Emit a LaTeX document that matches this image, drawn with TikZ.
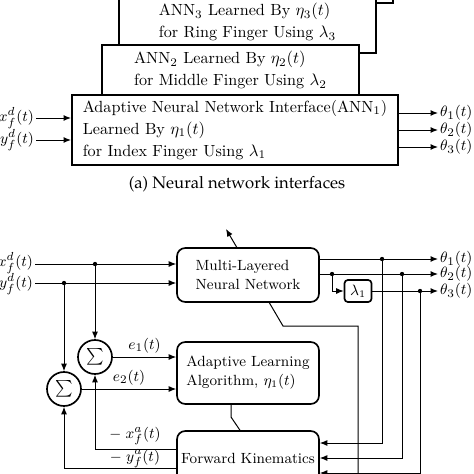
\documentclass[tikz,border=0pt]{standalone}
\usepackage[T1,TU]{fontenc}
\usetikzlibrary{arrows.meta}

\tikzset{
    annbox/.style={draw, line width=1.2pt, fill=white, align=left, inner sep=0pt,
        font=\fontsize{9.7}{13.2}\selectfont},
    blockbox/.style={draw, line width=1pt, fill=white, rounded corners=5pt, align=left,
        inner sep=0pt, font=\fontsize{8.85}{11.4}\selectfont},
    sumnode/.style={draw, line width=1pt, circle, fill=white, minimum size=20.4pt,
        inner sep=0pt, font=\fontsize{8.85}{11.4}\selectfont},
    junction/.style={circle, fill, inner sep=0pt, minimum size=2.6pt},
    sig/.style={-{Latex[length=4.5pt,width=3.6pt]}, line width=0.6pt},
    lbl/.style={inner sep=1pt, font=\fontsize{9.5}{11}\selectfont}
}

\begin{document}
\begin{tikzpicture}[x=0.6pt, y=-0.6pt, line width=0.6pt]
    \clip (0, 0) rectangle (474, 474);

    % (a) stacked interfaces
    \draw [line width=1.2pt, fill=white] (135, -60) rectangle (393, 3);
    \node [annbox, minimum width=154.2pt, minimum height=37.2pt] (ann3) at (247.5, 22)
        {ANN$_3$ Learned By $\eta_3(t)$\\for Ring Finger Using $\lambda_3$};
    \node [annbox, minimum width=154.2pt, minimum height=30pt] (ann2) at (230.5, 70)
        {ANN$_2$ Learned By $\eta_2(t)$\\for Middle Finger Using $\lambda_2$};
    \node [annbox, minimum width=195.6pt, minimum height=42pt] (ann1) at (235, 130)
        {Adaptive Neural Network Interface(ANN$_1$)\\Learned By $\eta_1(t)$\\for Index Finger Using $\lambda_1$};

    \node [lbl, anchor=east] (xa) at (36, 118) {$x_f^d(t)$};
    \node [lbl, anchor=east] (ya) at (36, 140) {$y_f^d(t)$};
    \draw [sig] (xa.east) -- (xa.east -| ann1.west);
    \draw [sig] (ya.east) -- (ya.east -| ann1.west);

    \node [lbl, anchor=west] (tha1) at (438, 113) {$\theta_1(t)$};
    \node [lbl, anchor=west] (tha2) at (438, 130) {$\theta_2(t)$};
    \node [lbl, anchor=west] (tha3) at (438, 147) {$\theta_3(t)$};
    \draw [sig] (ann1.east |- tha1) -- (tha1.west);
    \draw [sig] (ann1.east |- tha2) -- (tha2.west);
    \draw [sig] (ann1.east |- tha3) -- (tha3.west);

    \node [font=\fontencoding{T1}\fontfamily{ppl}\fontsize{10}{12}\selectfont] (capa) at (237, 184)
        {(a) Neural network interfaces};

    % (b) learning loop
    \coordinate (tip) at (226, 229);
    \draw [sig] (358, 490) -- (358, 326) -- (283, 326) -- (tip);
    \draw (231, 404) -- (231, 417) -- (250, 445);

    \node [blockbox, minimum width=85.2pt, minimum height=32.4pt] (mlnn) at (248, 275)
        {Multi-Layered\\Neural Network};
    \node [blockbox, minimum width=85.2pt, minimum height=37.2pt] (ala) at (248, 373)
        {Adaptive Learning\\Algorithm, $\eta_1(t)$};
    \node [blockbox, minimum width=85.2pt, minimum height=32.4pt] (fk) at (248, 458)
        {Forward Kinematics};
    \node [sumnode] (sum1) at (95, 357) {$\sum$};
    \node [sumnode] (sum2) at (64, 389) {$\sum$};
    \node [blockbox, rounded corners=2pt, minimum width=16.2pt, minimum height=13.2pt] (lam) at (358, 291)
        {$\lambda_1$};

    \node [lbl, anchor=east] (xb) at (35, 263) {$x_f^d(t)$};
    \node [lbl, anchor=east] (yb) at (35, 284) {$y_f^d(t)$};
    \coordinate (jx) at (95, 264);
    \coordinate (jy) at (64, 283);
    \draw [sig] (xb.east |- jx) -- (jx -| mlnn.west);
    \draw [sig] (yb.east |- jy) -- (jy -| mlnn.west);
    \node [junction] at (jx) {};
    \node [junction] at (jy) {};
    \draw [sig] (jx) -- (sum1.north);
    \draw [sig] (jy) -- (sum2.north);

    \draw [sig] (sum1.east) -- node [lbl, above=1pt] {$e_1(t)$} (sum1.east -| ala.west);
    \draw [sig] (sum2.east) -- node [lbl, above=1pt] {$e_2(t)$} (sum2.east -| ala.west);

    \node [lbl] (xfa) at (135, 436) {$-\;x_f^a(t)$};
    \node [lbl] (yfa) at (135, 459) {$-\;y_f^a(t)$};
    \draw [sig] ([yshift=5.4pt]fk.west) -| (sum1.south);
    \draw [sig] ([yshift=-6pt]fk.west) -| (sum2.south);

    \node [lbl, anchor=west] (thb1) at (438, 259) {$\theta_1(t)$};
    \node [lbl, anchor=west] (thb2) at (438, 274) {$\theta_2(t)$};
    \node [lbl, anchor=west] (thb3) at (438, 291) {$\theta_3(t)$};
    \draw [sig] (mlnn.east |- thb1) -- (thb1.west);
    \draw [sig] (mlnn.east |- thb2) -- (thb2.west);
    \draw [sig] (lam.east) -- (lam.east -| thb3.west);

    \coordinate (j1) at (382, 259);
    \coordinate (j2) at (332, 274);
    \coordinate (j3) at (402, 274);
    \coordinate (j4) at (420, 291);
    \foreach \j in {j1, j2, j3, j4}
        \node [junction] at (\j) {};
    \draw [sig] (j2) |- (lam.west);
    \draw [sig] (j1) |- ([yshift=9pt]fk.east);
    \draw [sig] (j3) |- (fk.east);
    \draw [sig] (j4) |- ([yshift=-9pt]fk.east);
\end{tikzpicture}
\end{document}
